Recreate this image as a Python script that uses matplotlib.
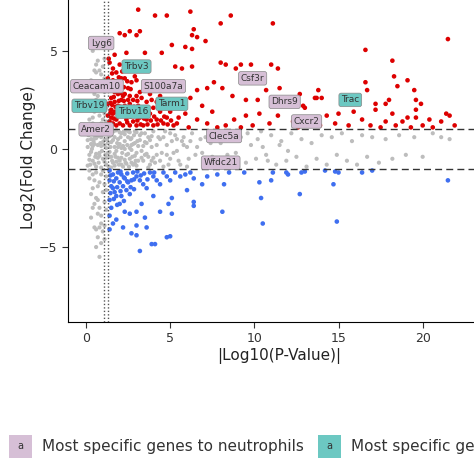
import matplotlib
matplotlib.use("Agg")
import matplotlib.pyplot as plt
from matplotlib.patches import Rectangle

def parse(s):
    v = [float(t) for t in s.split()]
    return v[0::2], v[1::2]

# grey (not significant) points: |log10 p|, log2 FC
grey_s = """
0.1 0.1 0.2 -0.3 0.3 0.5 0.4 -0.6 0.5 0.8 0.6 -0.9 0.7 0.2 0.8 -0.2 0.9 0.6 1.0 -0.5
1.1 0.9 1.2 -0.8 1.3 0.3 1.4 -0.4 1.5 0.7 1.6 -0.7 1.7 0.1 1.8 -0.1 1.9 0.5 2.0 -0.6
2.1 0.8 2.2 -0.9 2.3 0.4 2.4 -0.3 2.5 0.6 2.6 -0.5 2.7 0.2 2.8 -0.8 2.9 0.9 3.0 -0.2
0.15 0.7 0.25 -0.8 0.35 0.0 0.45 0.4 0.55 -0.4 0.65 0.9 0.75 -0.7 0.85 0.3 0.95 -0.1 1.05 0.8
1.15 -0.3 1.25 0.5 1.35 -0.9 1.45 0.1 1.55 -0.6 1.65 0.9 1.75 -0.4 1.85 0.3 1.95 -0.8 2.05 0.6
2.15 -0.2 2.25 0.9 2.35 -0.7 2.45 0.2 2.55 -0.9 2.65 0.5 2.75 -0.4 2.85 0.7 2.95 -0.6 3.05 0.4
0.3 0.95 0.6 0.55 0.9 -0.95 1.2 0.05 1.5 -0.95 1.8 0.95 2.1 -0.45 2.4 0.95 2.7 -0.05 3.0 0.85
0.2 -0.55 0.5 0.25 0.8 -0.35 1.1 0.45 1.4 0.65 1.7 -0.25 2.0 0.25 2.3 -0.55 2.6 0.05 2.9 -0.35
0.1 0.45 0.3 -0.15 0.5 -0.75 0.7 0.65 0.9 0.15 1.1 -0.65 1.3 0.85 1.5 0.35 1.7 -0.85 1.9 -0.45
2.1 0.05 2.3 0.75 2.5 -0.25 2.7 0.55 2.9 -0.75 3.1 0.15 3.3 -0.45 3.5 0.35 3.7 -0.95 3.9 0.65
0.2 0.85 0.4 0.15 0.6 -0.25 0.8 0.75 1.0 0.35 1.2 -0.45 1.4 -0.15 1.6 0.45 1.8 -0.65 2.0 0.85
2.2 0.15 2.4 -0.75 2.6 0.85 2.8 0.25 3.0 -0.85 3.2 0.45 3.4 0.15 3.6 -0.25 3.8 0.45 4.0 -0.45
0.1 -0.85 0.3 0.25 0.5 0.55 0.7 -0.45 0.9 0.9 1.1 0.2 1.3 -0.2 1.5 -0.4 1.7 0.6 1.9 0.1
2.1 -0.8 2.3 0.0 2.5 0.9 2.7 -0.7 2.9 0.3 3.1 -0.6 3.3 0.8 3.5 -0.3 3.7 0.6 3.9 -0.6
3.2 0.7 3.4 -0.6 3.6 0.3 3.8 -0.8 4.0 0.9 4.2 -0.3 4.4 0.5 4.6 -0.9 4.8 0.2 5.0 -0.5
3.3 -0.1 3.5 0.8 3.7 -0.4 3.9 0.1 4.1 -0.7 4.3 0.6 4.5 -0.2 4.7 0.9 4.9 -0.8 5.1 0.4
4.2 0.2 4.4 -0.6 4.6 0.6 4.8 -0.3 5.0 0.8 5.2 -0.2 5.4 0.5 5.6 -0.8 5.8 0.6 6.0 0.1
5.3 0.7 5.5 -0.6 5.8 0.2 6.0 -0.9 6.3 0.8 6.5 -0.3 6.8 0.5 7.0 -0.7 7.3 0.9 7.5 -0.4
5.4 -0.1 5.7 0.4 6.1 -0.5 6.6 0.1 7.1 0.6 7.7 -0.8 8.0 0.3 8.3 -0.6 8.6 0.8 8.9 -0.2
6.2 0.4 6.9 -0.2 7.4 0.3 7.9 0.7 8.4 -0.3 8.8 0.5 9.6 0.8 10.2 0.5 10.8 -0.6 11.5 0.2
9.2 0.6 9.5 -0.7 9.8 0.2 10.1 -0.5 10.4 0.9 10.7 -0.3 11.0 0.7 11.3 -0.8 11.6 0.4 11.9 -0.6
12.2 0.8 12.5 -0.4 12.8 0.5 13.1 -0.9 13.4 0.3 13.7 -0.5 14.0 0.7 14.3 -0.8 14.6 0.6 14.9 -0.3
15.2 0.8 15.5 -0.6 15.8 0.4 16.1 -0.8 16.4 0.7 16.7 -0.4 17.0 0.6 17.4 -0.7 17.8 0.5 18.2 -0.5
18.6 0.7 19.0 -0.3 19.5 0.6 20.0 -0.4 20.6 0.8 21.1 0.6 21.6 0.5 9.0 -0.9 10.5 0.1 12.0 -0.1
0.2 1.5 0.4 2.0 0.6 2.5 0.8 3.0 0.3 3.5 0.5 4.0 0.7 4.5 0.9 1.3 1.1 1.8 0.4 5.0
0.6 1.2 0.8 1.7 0.3 2.3 0.5 2.8 0.7 3.3 0.9 3.8 1.0 4.2 0.2 1.1 1.2 1.4 0.9 5.3
0.2 -1.5 0.4 -2.0 0.6 -2.5 0.8 -3.0 0.3 -3.5 0.5 -4.0 0.7 -4.5 0.9 -1.3 1.1 -1.8 0.6 -5.0
0.6 -1.2 0.8 -1.7 0.3 -2.3 0.5 -2.8 0.7 -3.3 0.9 -3.8 1.0 -4.2 0.2 -1.1 1.2 -1.4 0.8 -5.5
1.0 -2.2 1.1 -2.7 0.4 -3.0 0.9 -4.8 1.2 -3.1 0.7 -1.9 1.0 2.3 1.1 2.9 0.6 3.9 0.4 1.6
0.5 -1.6 0.7 -2.6 0.9 -3.4 1.1 -3.9 0.6 -4.1 1.0 -1.1 0.4 -1.3 1.2 -2.1 0.8 -4.0 1.1 -4.6
0.5 1.9 0.7 2.7 0.9 3.2 1.1 3.6 0.6 4.3 1.0 1.5 0.4 1.3 1.2 2.1 0.8 4.0 1.1 4.6
"""
gx, gy = parse(grey_s)

red_s = """
3.1 7.1 4.1 6.8 4.8 6.8 6.2 7.0 8.6 6.8 8.0 6.4 11.1 6.4 16.6 5.05 21.5 5.6 18.2 4.5
18.3 3.7 19.1 3.5 16.6 3.4 16.7 3.0 18.5 3.2 19.5 3.0 13.8 3.0 13.6 2.6 14.0 2.6 19.6 2.5
19.9 2.3 17.2 2.3 18.0 2.5 17.8 2.3 17.2 2.0 12.7 2.8 12.9 2.2 19.6 2.0 18.2 1.8 21.4 1.8
21.6 1.7 20.4 1.5 15.9 1.9 16.4 1.5 15.0 1.8 14.3 1.7 19.6 1.6 19.1 1.6 18.8 1.4 17.8 1.4
21.1 1.4 20.6 1.1 2.0 5.9 2.6 6.0 3.2 6.0 3.0 5.8 2.3 5.8 6.4 6.1 6.3 5.8 6.6 5.7
7.1 5.5 5.1 5.3 5.9 5.2 6.3 5.1 3.5 4.9 4.5 4.9 2.4 4.9 1.7 4.8 5.3 4.2 5.7 4.1
6.3 4.2 8.0 4.4 8.3 4.3 9.2 4.3 9.8 4.3 8.9 4.1 11.0 4.3 11.4 4.1 6.6 3.0 7.2 3.1
7.6 3.4 8.1 3.1 8.7 2.7 9.5 2.5 10.2 2.5 10.7 3.0 11.5 3.1 11.1 2.5 12.2 2.2 13.0 2.1
13.7 2.6 9.5 1.7 10.3 1.8 11.4 1.7 8.8 1.5 7.5 1.9 6.9 2.2 6.2 2.6 10.9 1.3 12.3 1.4
13.9 1.2 14.8 1.3 15.6 1.2 16.9 1.2 17.5 1.1 18.4 1.2 19.3 1.1 20.0 1.2 21.9 1.2 12.6 1.1
9.9 1.2 8.3 1.2 7.2 1.3 6.6 1.5 5.9 1.8 5.6 2.3 5.4 1.3 6.1 1.1 7.8 1.1 9.2 1.1
1.4 1.1 1.6 1.3 1.8 1.5 2.0 1.7 2.2 1.9 2.4 2.1 2.6 2.3 2.8 2.5 3.0 2.7 3.2 2.9
1.5 2.0 1.7 2.4 1.9 2.8 2.1 3.2 2.3 3.6 2.5 4.0 1.4 3.0 1.6 3.5 1.8 3.9 2.0 4.3
1.5 1.6 1.7 1.9 1.9 2.2 2.1 2.5 2.3 2.8 2.5 3.1 2.7 3.4 2.9 3.7 3.1 4.0 3.3 4.3
3.4 1.2 3.6 1.5 3.8 1.8 4.0 2.1 4.2 2.4 4.4 2.7 4.6 1.3 4.8 1.6 5.0 1.9 5.2 1.2
1.4 1.4 1.6 1.8 1.8 1.2 2.0 1.3 2.2 1.2 2.4 1.5 2.6 1.2 2.8 1.4 3.0 1.2 3.2 1.6
3.4 2.0 3.6 2.4 3.8 2.8 4.0 1.2 4.2 1.5 4.4 1.9 1.5 2.6 1.7 2.9 1.9 3.3 2.1 3.6
2.3 2.2 2.5 2.5 2.7 2.0 2.9 1.8 3.1 2.2 3.3 2.6 3.5 3.0 3.7 3.3 1.4 4.4 1.6 4.1
1.3 2.3 1.3 1.7 1.3 3.6 1.35 4.6 2.2 2.7 2.6 2.7 3.9 2.5 4.7 2.2 4.1 3.2 3.0 3.5
1.45 1.25 1.65 1.55 1.85 1.85 2.05 2.15 2.25 2.45 2.45 1.35 2.65 1.65 2.85 1.95 3.05 1.45 3.25 1.25
3.45 1.55 3.65 1.25 3.85 1.45 4.05 1.65 4.25 1.25 4.45 1.45 4.65 1.65 4.85 1.25 5.05 1.45 5.5 1.6
1.45 2.35 1.65 2.65 1.85 3.05 2.05 2.85 2.25 3.15 2.45 3.45 2.65 3.05 2.85 2.15 3.05 2.45 3.25 2.05
1.45 3.35 1.55 3.85 1.75 3.45 1.95 3.65 2.15 3.95 2.35 4.25 1.45 1.85 1.55 2.25 1.75 2.15 1.95 2.45
"""
rx, ry = parse(red_s)

blue_s = """
3.2 -5.2 3.9 -4.85 4.1 -4.85 4.8 -4.5 5.0 -4.45 2.7 -4.3 3.0 -4.4 3.6 -4.0 3.0 -3.9 2.2 -4.0
1.4 -4.1 10.5 -3.8 14.9 -3.7 8.1 -3.2 6.4 -2.9 6.4 -2.7 5.1 -3.3 4.4 -3.2 3.5 -3.5 2.6 -3.3
10.4 -2.5 12.7 -2.3 14.7 -1.8 21.5 -1.6 8.2 -1.8 10.3 -1.7 11.0 -1.6 6.9 -1.8 6.0 -2.1 5.1 -2.5
4.9 -2.8 4.0 -2.4 3.3 -2.8 3.0 -3.2 2.3 -3.2 1.8 -3.6 1.6 -3.8 12.8 -1.2 12.0 -1.3 14.2 -1.1
16.4 -1.2 15.0 -1.2 9.4 -1.2 8.5 -1.2 7.8 -1.3 7.2 -1.4 6.4 -1.5 11.1 -1.2 11.9 -1.2 13.0 -1.15
14.8 -1.15 17.0 -1.1 1.4 -1.1 1.6 -1.3 1.8 -1.5 2.0 -1.7 2.2 -1.9 2.4 -2.1 2.6 -2.3 2.8 -1.2
3.0 -1.4 3.2 -1.6 3.4 -1.8 3.6 -2.0 3.8 -1.2 4.0 -1.4 4.2 -1.6 4.4 -1.8 4.6 -1.2 4.8 -1.4
5.0 -1.6 5.3 -1.2 5.6 -1.4 5.9 -1.3 6.2 -1.2 1.4 -1.6 1.6 -2.0 1.8 -2.4 2.0 -2.8 1.4 -2.6
1.5 -3.0 1.7 -2.2 1.9 -1.2 2.1 -1.3 2.3 -1.5 2.5 -1.7 2.7 -1.6 1.5 -1.9 1.4 -3.4 2.1 -2.4
1.45 -1.35 1.65 -1.65 1.85 -1.95 2.05 -1.15 2.25 -1.45 2.45 -1.25 2.65 -1.95 2.85 -1.55 3.05 -1.15 3.25 -1.35
1.45 -2.25 1.65 -2.55 1.85 -2.85 2.05 -2.15 2.25 -2.65 2.45 -1.65 3.45 -1.25 3.65 -1.55 4.05 -1.2 2.85 -2.05
"""
bx, by = parse(blue_s)

labels = ["Lyg6", "Trbv3", "Ceacam10", "S100a7a", "Trbv19", "Trbv16", "Tarm1",
          "Csf3r", "Dhrs9", "Cxcr2", "Trac", "Amer2", "Clec5a", "Wfdc21"]
lab_x = [0.9, 3.0, 0.65, 4.6, 0.2, 2.8, 5.1, 9.9, 11.8, 13.1, 15.7, 0.6, 8.2, 8.0]
lab_y = [5.4, 4.2, 3.2, 3.2, 2.2, 1.9, 2.3, 3.6, 2.4, 1.4, 2.5, 1.0, 0.66, -0.7]
lab_group = ["n", "t", "n", "n", "t", "t", "t", "n", "n", "n", "t", "n", "n", "n"]

PURPLE = "#d6bfd6"
TEAL = "#6cc8c2"

fig = plt.figure(figsize=(4.74, 4.74), dpi=100)
ax = fig.add_axes([68/474, (474-322)/474, (490-68)/474, 330/474])
ax.scatter(gx, gy, s=9, c="#bdbdbd", edgecolors="none", zorder=1)
ax.scatter(rx, ry, s=11, c="#dd0000", edgecolors="none", zorder=2)
ax.scatter(bx, by, s=11, c="#3f6ff0", edgecolors="none", zorder=2)
ax.axhline(1, color="#333333", ls=(0, (5, 3)), lw=1, zorder=3)
ax.axhline(-1, color="#333333", ls=(0, (5, 3)), lw=1, zorder=3)
ax.axvline(1.05, color="#555555", ls=(0, (1, 1.5)), lw=1, zorder=3)
ax.axvline(1.3, color="#555555", ls=(0, (1, 1.5)), lw=1, zorder=3)
for t, x, y, g in zip(labels, lab_x, lab_y, lab_group):
    ax.text(x, y, t, fontsize=6.5, ha="center", va="center", color="#333333", zorder=5,
            bbox=dict(boxstyle="round,pad=0.25", fc=PURPLE if g == "n" else TEAL, ec="#888888", lw=0.5))
ax.set_xlim(-1.07, 24.0)
ax.set_ylim(-8.82, 8.0)
ax.set_xticks([0, 5, 10, 15, 20])
ax.set_yticks([-5, 0, 5])
ax.tick_params(labelsize=9, direction="out", length=4, colors="#333333")
ax.spines["top"].set_visible(False)
ax.spines["right"].set_visible(False)
ax.set_xlabel("|Log10(P-Value)|", fontsize=11, color="#222222", labelpad=2)
ax.set_ylabel("Log2(Fold Change)", fontsize=11, color="#222222", labelpad=2)

# legend (the second entry runs off the right edge, as in the reference)
for x0, col, txt in [(9, PURPLE, "Most specific genes to neutrophils"),
                     (318, TEAL, "Most specific genes to T cells")]:
    fig.patches.append(Rectangle((x0/474, (474-458)/474), 23/474, 23/474, transform=fig.transFigure,
                                 fc=col, ec="none"))
    fig.text((x0+11.5)/474, (474-446)/474, "a", fontsize=7, ha="center", va="center", color="#333333")
    fig.text((x0+33)/474, (474-446)/474, txt, fontsize=11, ha="left", va="center", color="#333333")

fig.savefig("out.png", dpi=100)
